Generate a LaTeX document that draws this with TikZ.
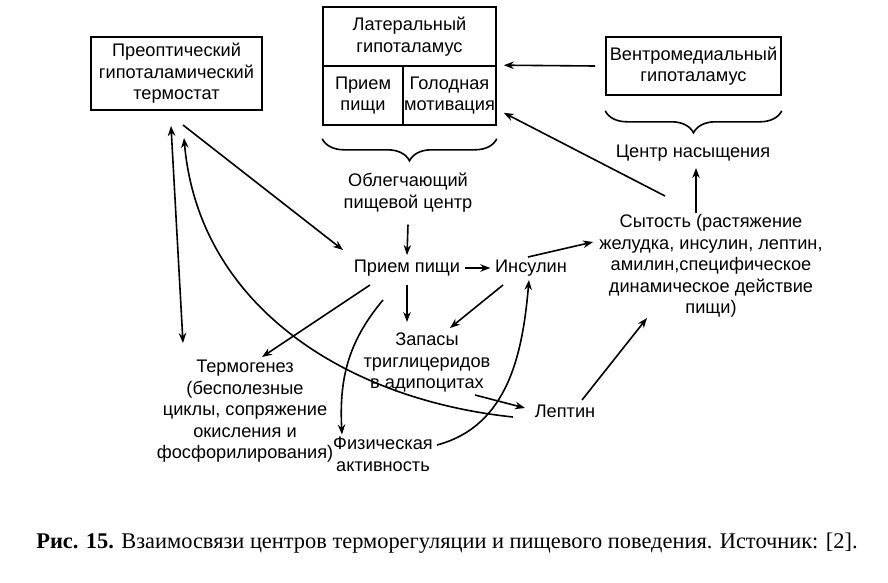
\documentclass[tikz,border=0pt]{standalone}
\usepackage{fontspec}
\setmainfont{Liberation Sans}
\newfontfamily\capfont{Liberation Serif}
\usepackage{tikz}
\usetikzlibrary{decorations.pathreplacing}
\usetikzlibrary{shapes,arrows,arrows.meta}
\usetikzlibrary{positioning}
\tikzstyle{box} = [draw, rectangle, align=center, inner sep=0pt]

\begin{document}
\begin{tikzpicture}[x=1pt,y=1pt,line width=1.6pt,font=\fontsize{18.2}{21.5}\selectfont]

\tikzset{>={Stealth[length=10pt,width=7.5pt]}}
\tikzstyle{txt} = [align=center, inner sep=0pt];
\useasboundingbox[fill=white] (0,0) rectangle (888,-582);

\node[box,minimum width=171,minimum height=73] (preo) at (176.5,-73.5) {Преоптический\\гипоталамический\\термостат};
\node[box,minimum width=173,minimum height=59] (latTop) at (409.5,-36.5) {Латеральный\\гипоталамус};
\node[box,minimum width=80,minimum height=59] (latA) at (363,-95.5) {Прием\\пищи};
\node[box,minimum width=93,minimum height=59] (latB) at (449.5,-95.5) {Голодная\\мотивация};
\node[box,minimum width=175,minimum height=58] (vmh) at (693.5,-66) {Вентромедиальный\\гипоталамус};

\node[txt] (oblg) at (408,-192.5) {Облегчающий\\пищевой центр};
\node[txt] (satc) at (693,-153) {Центр насыщения};
\node[txt] (priem) at (407,-268) {Прием пищи};
\node[txt] (insul) at (531,-268) {Инсулин};
\node[txt] (sat) at (711,-266) {Сытость (растяжение\\желудка, инсулин, лептин,\\амилин,специфическое\\динамическое действие\\пищи)};
\node[txt] (zapas) at (427,-362.5) {Запасы\\триглицеридов\\в адипоцитах};
\node[txt] (thermo) at (245,-411.5) {Термогенез\\(бесполезные\\циклы, сопряжение\\окисления и\\фосфорилирования)};
\node[txt] (phys) at (383,-454.5) {Физическая\\активность};
\node[txt] (leptin) at (565,-411) {Лептин};
\node[txt,font=\capfont\fontsize{22.4}{24}\selectfont] (caption) at (447,-543) {\textbf{Рис. 15.} Взаимосвязи центров терморегуляции и пищевого поведения. Источник: [2].};

\draw[decorate,decoration={brace,mirror,amplitude=22}] ([yshift=-13]latA.south west) -- ([yshift=-13]latB.south east);
\draw[decorate,decoration={brace,mirror,amplitude=22}] ([yshift=-15]vmh.south west) -- ([yshift=-15]vmh.south east);

\draw[->] ([xshift=-10]vmh.west) -- ([xshift=7]latB.north east);
\draw[->] ([shift={(-46,70)}]sat.center) -- ([shift={(7,13)}]latB.south east);
\draw[->] ([shift={(-15,53)}]sat.center) -- ([shift={(3,-15)}]satc.center);
\draw[->] ([yshift=-12]oblg.south) -- ([yshift=4]priem.north);
\draw[->] ([shift={(6.5,-51.5)}]preo.center) -- ([shift={(-64,18)}]priem.center);
\draw[->] ([xshift=4]priem.east) -- ([xshift=-4]insul.west);
\draw[->] ([shift={(-3,11)}]insul.center) -- ([shift={(-118,24)}]sat.center);
\draw[->] ([shift={(0,-17)}]priem.center) -- ([shift={(-20,40.5)}]zapas.center);
\draw[->] ([shift={(-28,-17)}]insul.center) -- ([shift={(23,34.5)}]zapas.center);
\draw[->] ([shift={(-37,-17)}]priem.center) -- ([shift={(17,54.5)}]thermo.center);
\draw[->] ([shift={(-24,-32)}]priem.center) to[out=230,in=93] ([shift={(-41,20)}]phys.center);
\draw[->] ([shift={(54,9.5)}]phys.center) to[out=15,in=265] ([shift={(-2,-12)}]insul.center);
\draw[->] ([shift={(48,-32.5)}]zapas.center) -- ([shift={(-40,3)}]leptin.center);
\draw[->] ([shift={(17,11)}]leptin.center) -- ([shift={(-64,-52)}]sat.center);
\draw[->] ([shift={(-52,-6)}]leptin.center) to[out=174,in=-85] ([shift={(7.5,-64.5)}]preo.center);
\draw[<->] ([shift={(-5.5,-52.5)}]preo.center) -- ([shift={(-62,68.5)}]thermo.center);

\end{tikzpicture}
\end{document}
